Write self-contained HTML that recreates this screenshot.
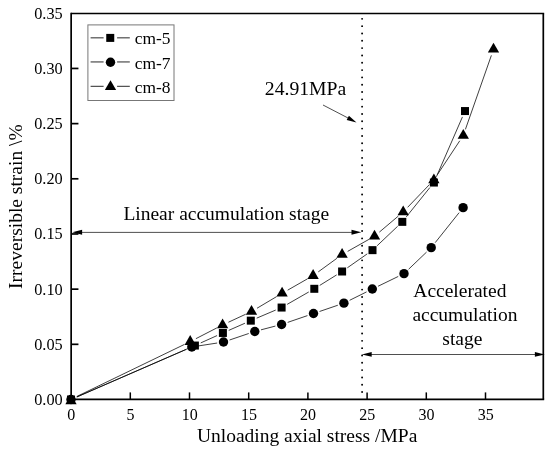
<!DOCTYPE html>
<html><head><meta charset="utf-8"><title>Irreversible strain chart</title>
<style>html,body{margin:0;padding:0;background:#fff;}body{width:550px;height:451px;position:relative;overflow:hidden;}</style>
</head><body>
<svg width="550" height="451" viewBox="0 0 550 451" style="display:block;position:absolute;left:0;top:0">
<rect x="0" y="0" width="550" height="451" fill="#fff"/>
<g stroke="#000" fill="none" stroke-linecap="butt">
<line x1="71.15" y1="12.75" x2="71.15" y2="400.2" stroke-width="1.7"/>
<line x1="70.30000000000001" y1="399.4" x2="544.15" y2="399.4" stroke-width="1.6"/>
<line x1="71.15" y1="13.55" x2="544.15" y2="13.55" stroke-width="1.55"/>
<line x1="543.3" y1="13.55" x2="543.3" y2="399.4" stroke-width="1.7"/>
<line x1="130.30" y1="399.4" x2="130.30" y2="392.4" stroke-width="1.5"/>
<line x1="189.50" y1="399.4" x2="189.50" y2="392.4" stroke-width="1.5"/>
<line x1="248.70" y1="399.4" x2="248.70" y2="392.4" stroke-width="1.5"/>
<line x1="307.90" y1="399.4" x2="307.90" y2="392.4" stroke-width="1.5"/>
<line x1="367.10" y1="399.4" x2="367.10" y2="392.4" stroke-width="1.5"/>
<line x1="426.30" y1="399.4" x2="426.30" y2="392.4" stroke-width="1.5"/>
<line x1="485.50" y1="399.4" x2="485.50" y2="392.4" stroke-width="1.5"/>
<line x1="71.15" y1="344.32" x2="78.45" y2="344.32" stroke-width="1.7"/>
<line x1="71.15" y1="289.15" x2="78.45" y2="289.15" stroke-width="1.7"/>
<line x1="71.15" y1="233.97" x2="78.45" y2="233.97" stroke-width="1.7"/>
<line x1="71.15" y1="178.80" x2="78.45" y2="178.80" stroke-width="1.7"/>
<line x1="71.15" y1="123.62" x2="78.45" y2="123.62" stroke-width="1.7"/>
<line x1="71.15" y1="68.45" x2="78.45" y2="68.45" stroke-width="1.7"/>
</g>
<g fill="#000"><circle cx="362.1" cy="18.85" r="0.95"/><circle cx="362.1" cy="26.17" r="0.95"/><circle cx="362.1" cy="33.49" r="0.95"/><circle cx="362.1" cy="40.80" r="0.95"/><circle cx="362.1" cy="48.12" r="0.95"/><circle cx="362.1" cy="55.44" r="0.95"/><circle cx="362.1" cy="62.76" r="0.95"/><circle cx="362.1" cy="70.08" r="0.95"/><circle cx="362.1" cy="77.39" r="0.95"/><circle cx="362.1" cy="84.71" r="0.95"/><circle cx="362.1" cy="92.03" r="0.95"/><circle cx="362.1" cy="99.35" r="0.95"/><circle cx="362.1" cy="106.67" r="0.95"/><circle cx="362.1" cy="113.98" r="0.95"/><circle cx="362.1" cy="121.30" r="0.95"/><circle cx="362.1" cy="128.62" r="0.95"/><circle cx="362.1" cy="135.94" r="0.95"/><circle cx="362.1" cy="143.26" r="0.95"/><circle cx="362.1" cy="150.57" r="0.95"/><circle cx="362.1" cy="157.89" r="0.95"/><circle cx="362.1" cy="165.21" r="0.95"/><circle cx="362.1" cy="172.53" r="0.95"/><circle cx="362.1" cy="179.85" r="0.95"/><circle cx="362.1" cy="187.16" r="0.95"/><circle cx="362.1" cy="194.48" r="0.95"/><circle cx="362.1" cy="201.80" r="0.95"/><circle cx="362.1" cy="209.12" r="0.95"/><circle cx="362.1" cy="216.44" r="0.95"/><circle cx="362.1" cy="223.75" r="0.95"/><circle cx="362.1" cy="231.07" r="0.95"/><circle cx="362.1" cy="238.39" r="0.95"/><circle cx="362.1" cy="245.71" r="0.95"/><circle cx="362.1" cy="253.03" r="0.95"/><circle cx="362.1" cy="260.34" r="0.95"/><circle cx="362.1" cy="267.66" r="0.95"/><circle cx="362.1" cy="274.98" r="0.95"/><circle cx="362.1" cy="282.30" r="0.95"/><circle cx="362.1" cy="289.62" r="0.95"/><circle cx="362.1" cy="296.93" r="0.95"/><circle cx="362.1" cy="304.25" r="0.95"/><circle cx="362.1" cy="311.57" r="0.95"/><circle cx="362.1" cy="318.89" r="0.95"/><circle cx="362.1" cy="326.21" r="0.95"/><circle cx="362.1" cy="333.52" r="0.95"/><circle cx="362.1" cy="340.84" r="0.95"/><circle cx="362.1" cy="348.16" r="0.95"/><circle cx="362.1" cy="355.48" r="0.95"/><circle cx="362.1" cy="362.80" r="0.95"/><circle cx="362.1" cy="370.11" r="0.95"/><circle cx="362.1" cy="377.43" r="0.95"/><circle cx="362.1" cy="384.75" r="0.95"/><circle cx="362.1" cy="392.07" r="0.95"/></g>
<g stroke="#000" stroke-width="0.75" fill="none">
<line x1="76.87" y1="396.94" x2="189.03" y2="348.11"/>
<line x1="200.74" y1="342.92" x2="217.06" y2="335.58"/>
<line x1="228.76" y1="330.37" x2="244.94" y2="323.23"/>
<line x1="256.69" y1="318.15" x2="275.71" y2="310.05"/>
<line x1="287.15" y1="304.37" x2="308.75" y2="291.98"/>
<line x1="319.73" y1="285.42" x2="336.67" y2="274.88"/>
<line x1="347.34" y1="267.82" x2="367.26" y2="253.83"/>
<line x1="377.14" y1="245.74" x2="397.66" y2="226.26"/>
<line x1="406.31" y1="216.86" x2="429.89" y2="187.54"/>
<line x1="436.45" y1="176.68" x2="462.45" y2="116.92"/>
<line x1="76.87" y1="396.95" x2="185.93" y2="349.50"/>
<line x1="198.12" y1="345.97" x2="217.18" y2="343.03"/>
<line x1="229.56" y1="340.00" x2="248.74" y2="333.50"/>
<line x1="260.99" y1="329.83" x2="275.41" y2="326.07"/>
<line x1="287.66" y1="322.38" x2="307.44" y2="315.62"/>
<line x1="319.56" y1="311.48" x2="337.84" y2="305.22"/>
<line x1="349.63" y1="300.30" x2="366.57" y2="291.90"/>
<line x1="378.06" y1="286.25" x2="398.24" y2="276.45"/>
<line x1="408.63" y1="269.23" x2="426.57" y2="252.07"/>
<line x1="435.19" y1="242.65" x2="459.11" y2="212.65"/>
<line x1="76.76" y1="396.51" x2="184.44" y2="344.42"/>
<line x1="195.89" y1="338.70" x2="216.91" y2="327.87"/>
<line x1="228.41" y1="322.24" x2="245.69" y2="314.23"/>
<line x1="257.00" y1="308.26" x2="276.60" y2="296.60"/>
<line x1="287.66" y1="290.16" x2="307.54" y2="278.81"/>
<line x1="318.28" y1="271.87" x2="336.92" y2="258.30"/>
<line x1="347.67" y1="251.39" x2="368.93" y2="239.38"/>
<line x1="379.38" y1="232.10" x2="398.32" y2="216.07"/>
<line x1="407.63" y1="207.32" x2="429.47" y2="184.55"/>
<line x1="437.43" y1="174.59" x2="459.77" y2="140.77"/>
<line x1="465.42" y1="129.39" x2="491.38" y2="55.37"/>
</g>
<g fill="#000">
<rect x="67.00" y="395.50" width="8.0" height="8.0"/>
<rect x="190.90" y="341.55" width="8.0" height="8.0"/>
<rect x="218.90" y="328.95" width="8.0" height="8.0"/>
<rect x="246.80" y="316.65" width="8.0" height="8.0"/>
<rect x="277.60" y="303.55" width="8.0" height="8.0"/>
<rect x="310.30" y="284.80" width="8.0" height="8.0"/>
<rect x="338.10" y="267.50" width="8.0" height="8.0"/>
<rect x="368.50" y="246.15" width="8.0" height="8.0"/>
<rect x="398.30" y="217.85" width="8.0" height="8.0"/>
<rect x="429.90" y="178.55" width="8.0" height="8.0"/>
<rect x="461.00" y="107.05" width="8.0" height="8.0"/>
<circle cx="71.00" cy="399.50" r="4.7"/>
<circle cx="191.80" cy="346.95" r="4.7"/>
<circle cx="223.50" cy="342.05" r="4.7"/>
<circle cx="254.80" cy="331.45" r="4.7"/>
<circle cx="281.60" cy="324.45" r="4.7"/>
<circle cx="313.50" cy="313.55" r="4.7"/>
<circle cx="343.90" cy="303.15" r="4.7"/>
<circle cx="372.30" cy="289.05" r="4.7"/>
<circle cx="404.00" cy="273.65" r="4.7"/>
<circle cx="431.20" cy="247.65" r="4.7"/>
<circle cx="463.10" cy="207.65" r="4.7"/>
<polygon points="71.00,394.40 65.35,404.20 76.65,404.20"/>
<polygon points="190.20,335.10 184.55,344.90 195.85,344.90"/>
<polygon points="222.60,318.40 216.95,328.20 228.25,328.20"/>
<polygon points="251.50,305.00 245.85,314.80 257.15,314.80"/>
<polygon points="282.10,286.80 276.45,296.60 287.75,296.60"/>
<polygon points="313.10,269.10 307.45,278.90 318.75,278.90"/>
<polygon points="342.10,248.00 336.45,257.80 347.75,257.80"/>
<polygon points="374.50,229.70 368.85,239.50 380.15,239.50"/>
<polygon points="403.20,205.40 397.55,215.20 408.85,215.20"/>
<polygon points="433.90,173.40 428.25,183.20 439.55,183.20"/>
<polygon points="463.30,128.90 457.65,138.70 468.95,138.70"/>
<polygon points="493.50,42.80 487.85,52.60 499.15,52.60"/>
</g>
<rect x="87.9" y="24.9" width="86.1" height="75.6" fill="#fff" stroke="#777" stroke-width="1"/>
<line x1="90.6" y1="37.85" x2="103.6" y2="37.85" stroke="#111" stroke-width="0.9"/>
<line x1="117.1" y1="37.85" x2="129.8" y2="37.85" stroke="#111" stroke-width="0.9"/>
<rect x="106.25" y="33.90" width="8.0" height="8.0"/>
<line x1="90.6" y1="61.95" x2="103.6" y2="61.95" stroke="#111" stroke-width="0.9"/>
<line x1="117.1" y1="61.95" x2="129.8" y2="61.95" stroke="#111" stroke-width="0.9"/>
<circle cx="110.50" cy="62.20" r="4.7"/>
<line x1="90.6" y1="86.3" x2="103.6" y2="86.3" stroke="#111" stroke-width="0.9"/>
<line x1="117.1" y1="86.3" x2="129.8" y2="86.3" stroke="#111" stroke-width="0.9"/>
<polygon points="110.50,80.20 104.85,90.00 116.15,90.00"/>
<g stroke="#222" stroke-width="0.8" fill="none">
<line x1="80" y1="232.4" x2="353" y2="232.4"/>
<line x1="370" y1="354.5" x2="535" y2="354.5"/>
<line x1="323" y1="105" x2="349.5" y2="118.77"/>
</g>
<g fill="#000">
<polygon points="72.30,232.30 82.10,229.85 82.10,234.75"/>
<polygon points="361.30,232.30 351.50,234.75 351.50,229.85"/>
<polygon points="361.90,354.40 371.70,351.95 371.70,356.85"/>
<polygon points="544.70,354.40 534.90,356.85 534.90,351.95"/>
<polygon points="356.50,122.40 346.67,120.06 348.93,115.71"/>
</g>
<g font-family="'Liberation Serif', 'Times New Roman', serif" fill="#000" font-size="16.3px" text-anchor="end">
<text x="62.7" y="404.85">0.00</text>
<text x="62.7" y="349.68">0.05</text>
<text x="62.7" y="294.50">0.10</text>
<text x="62.7" y="239.32">0.15</text>
<text x="62.7" y="184.15">0.20</text>
<text x="62.7" y="128.97">0.25</text>
<text x="62.7" y="73.80">0.30</text>
<text x="62.7" y="18.62">0.35</text>
</g>
<g font-family="'Liberation Serif', 'Times New Roman', serif" fill="#000" font-size="16px" text-anchor="middle">
<text x="71.30" y="420.4">0</text>
<text x="130.50" y="420.4">5</text>
<text x="189.70" y="420.4">10</text>
<text x="248.90" y="420.4">15</text>
<text x="308.10" y="420.4">20</text>
<text x="367.30" y="420.4">25</text>
<text x="426.50" y="420.4">30</text>
<text x="485.70" y="420.4">35</text>
</g>
<g font-family="'Liberation Serif', 'Times New Roman', serif" fill="#000" font-size="17.4px">
<text x="134.8" y="43.60">cm-5</text>
<text x="134.8" y="68.50">cm-7</text>
<text x="134.8" y="93.30">cm-8</text>
</g>
<g font-family="'Liberation Serif', 'Times New Roman', serif" fill="#000" font-size="19.5px">
<text x="264.8" y="94.6" font-size="19.7px">24.91MPa</text>
<text x="123.4" y="219.7">Linear accumulation stage</text>
<text x="413.3" y="296.8">Accelerated</text>
<text x="412.4" y="320.9">accumulation</text>
<text x="442.3" y="345">stage</text>
<text x="196.9" y="442.4">Unloading axial stress /MPa</text>
<text transform="translate(21.9,288.9) rotate(-90)">Irreversible strain \%</text>
</g>
</svg>
</body></html>
